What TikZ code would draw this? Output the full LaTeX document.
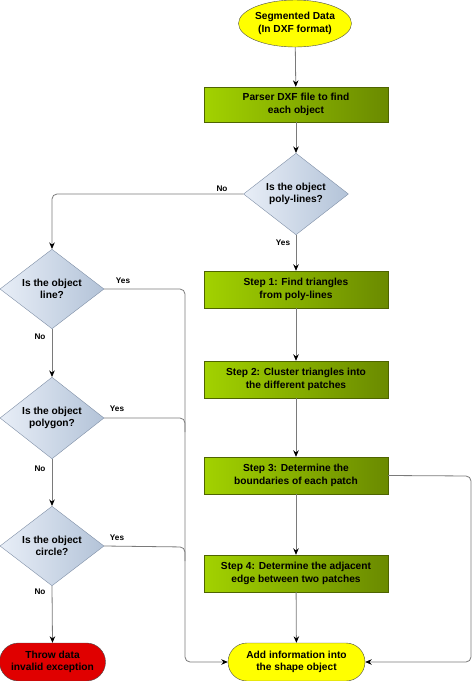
\documentclass[tikz,border=0pt]{standalone}
\usepackage{fontspec}
\setmainfont{Liberation Sans}
\usetikzlibrary{shapes.geometric,arrows.meta}
\definecolor{lineg}{HTML}{7A7A7A}
\definecolor{gl}{HTML}{A2D200}
\definecolor{gr}{HTML}{6A8A00}
\definecolor{gb}{HTML}{4E6400}
\definecolor{bl}{HTML}{E8EEF7}
\definecolor{br}{HTML}{B3C3D8}
\definecolor{bb}{HTML}{7F8FA6}
\definecolor{yel}{HTML}{FFFF00}
\definecolor{redf}{HTML}{E00000}
\tikzset{
  txt/.style={font=\bfseries\fontsize{10.2}{12.6}\selectfont, align=center},
  stepbox/.style={txt, rectangle, draw=gb, left color=gl, right color=gr, minimum width=184pt, minimum height=37pt, inner sep=0pt},
  decide/.style={txt, diamond, draw=bb, left color=bl, right color=br, inner sep=0pt, minimum width=104pt, minimum height=65pt},
  term/.style={txt, ellipse, draw=black!70, fill=yel, inner sep=0pt},
  stad/.style={txt, rectangle, rounded corners=19pt, draw=black!70, inner sep=0pt, minimum height=38pt},
  conn/.style={draw=lineg, line width=0.8pt, rounded corners=5pt},
  arr/.style={conn, -{Stealth[length=6.5pt,width=5.5pt,color=black]}},
  lab/.style={font=\bfseries\fontsize{8.2}{9}\selectfont, inner sep=0pt}
}
\begin{document}
\begin{tikzpicture}[x=1pt,y=-1pt]
\useasboundingbox (0,0) rectangle (474,681);
\node[term, minimum width=104pt, minimum height=47pt] (start) at (295,23.5) {Segmented Data\\(In DXF format)};
\node[stepbox, minimum height=35pt] (parse) at (296,104.5) {Parser DXF file to find\\each object};
\node[decide, minimum width=105pt, minimum height=68pt] (d1) at (296,194) {Is the object\\poly-lines?};
\node[stepbox] (s1) at (296,289.5) {Step 1: Find triangles\\from poly-lines};
\node[stepbox] (s2) at (296,379.5) {Step 2: Cluster triangles into\\the different patches};
\node[stepbox] (s3) at (296,475.5) {Step 3: Determine the\\boundaries of each patch};
\node[stepbox] (s4) at (296,573.5) {Step 4: Determine the adjacent\\edge between two patches};
\node[stad, fill=yel, minimum width=137pt] (endn) at (296.5,662) {Add information into\\the shape object};
\node[decide] (d2) at (52,289) {Is the object\\line?};
\node[decide] (d3) at (52,418) {Is the object\\polygon?};
\node[decide] (d4) at (52,546) {Is the object\\circle?};
\node[stad, fill=redf, minimum width=106pt] (throw) at (52.5,662) {Throw data\\invalid exception};
\coordinate (c1) at (52,194);
\coordinate (c2) at (185,289);
\coordinate (c3) at (185,662);
\coordinate (c4) at (185,418);
\coordinate (c4b) at (185,432);
\coordinate (c5) at (185,547);
\coordinate (c5b) at (185,561);
\coordinate (c6) at (471,476);
\coordinate (c7) at (471,662);
\draw[arr] (start) -- (parse);
\draw[arr] (parse) -- (d1);
\draw[arr] (d1.south) -- (s1.north);
\draw[arr] (s1) -- (s2);
\draw[arr] (s2) -- (s3);
\draw[arr] (s3) -- (s4);
\draw[arr] (s4) -- (endn);
\draw[arr] (d1.west) -- (c1) -- (d2.north);
\draw[arr] (d2.south) -- (d3.north);
\draw[arr] (d3.south) -- (d4.north);
\draw[arr] (d4.south) -- (throw.north);
\draw[arr] (d2.east) -- (c2) -- (c3) -- (endn.west);
\draw[conn] (d3.east) -- (c4) -- (c4b);
\draw[conn] (d4.east) -- (c5) -- (c5b);
\draw[arr] (s3.east) -- (c6) -- (c7) -- (endn.east);
\node[lab] (l1) at (222,189) {No};
\node[lab] (l2) at (283,243) {Yes};
\node[lab] (l3) at (123,281) {Yes};
\node[lab] (l4) at (40,337) {No};
\node[lab] (l5) at (117,409) {Yes};
\node[lab] (l6) at (40,469) {No};
\node[lab] (l7) at (117,538) {Yes};
\node[lab] (l8) at (40,592) {No};
\end{tikzpicture}
\end{document}
